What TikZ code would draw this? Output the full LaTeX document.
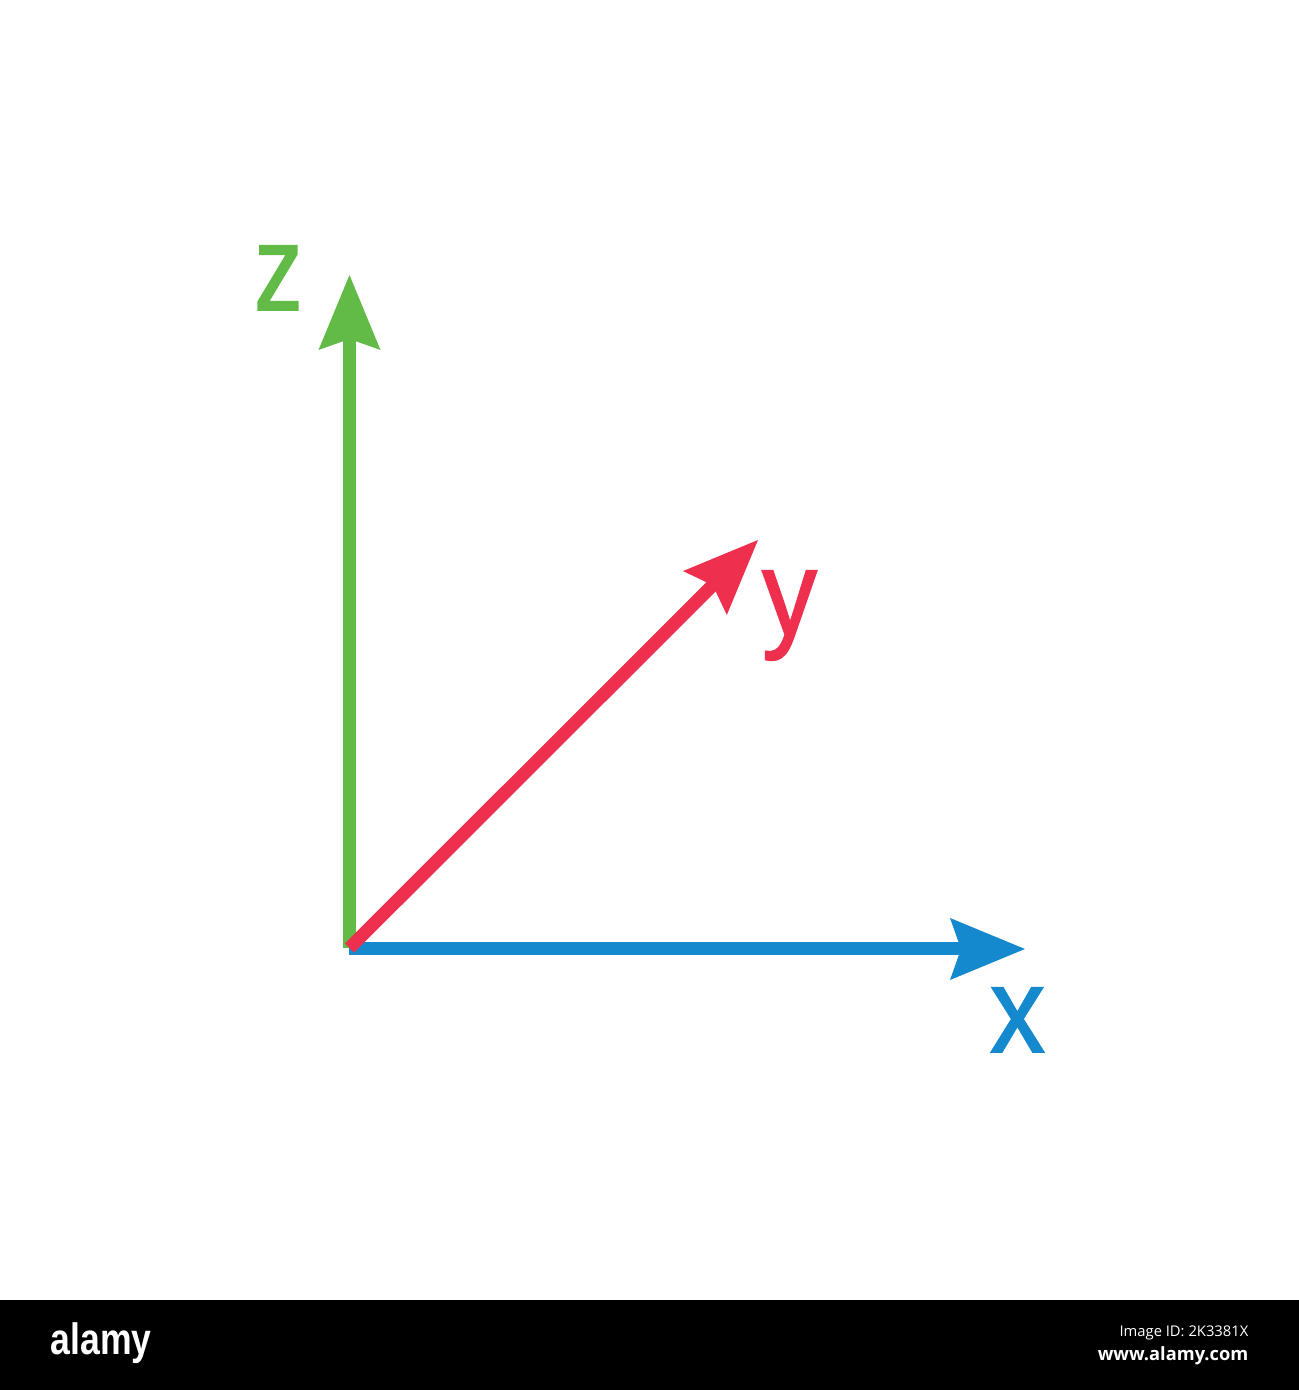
\documentclass[tikz,border=0pt]{standalone}
\usepackage{fontspec}
\usepackage{graphicx}
\setmainfont{Liberation Sans}
\newfontfamily\opensans{Open Sans}
\newfontfamily\axfont[FakeBold=1.6]{Liberation Sans}
\usetikzlibrary{arrows.meta}
\definecolor{axgreen}{HTML}{62BB46}
\definecolor{axred}{HTML}{EE2F4E}
\definecolor{axblue}{HTML}{1589CE}
\tikzset{
  axis/.style={line width=0.13cm, -{Stealth[length=0.75cm,width=0.62cm,inset=0.11cm,line width=0pt]}},
  axlabel/.style={inner sep=0pt, anchor=base, font=\axfont\fontsize{34.5}{34.5}\selectfont},
}
\begin{document}
\begin{tikzpicture}
\useasboundingbox (0,0) rectangle (12.99,13.90);
\fill[white] (0,0) rectangle (12.99,13.90);
% origin and axis ends
\coordinate (O) at (3.495,4.42);
\coordinate (Ob) at (3.49,4.41);
\coordinate (Z) at (3.495,11.15);
\coordinate (X) at (10.25,4.41);
\coordinate (Y) at (7.58,8.50);
\draw[axis, axgreen] (O) -- (Z);
\draw[axis, axblue] (Ob) -- (X);
\draw[axis, axred] (O) -- (Y);
\node[axlabel, text=axgreen] (zl) at (2.785,10.80) {\scalebox{0.8}[1]{z}};
\node[axlabel, text=axred] (yl) at (7.895,7.55) {\scalebox{0.9}[1]{y}};
\node[axlabel, text=axblue] (xl) at (10.175,3.38) {\scalebox{0.9}[1]{x}};
% watermark bar
\fill[black] (0,0) rectangle (12.99,0.90);
\node[inner sep=0pt, anchor=base west, text=white, font=\fontsize{12.5}{12.5}\selectfont\bfseries] (logo) at (0.50,0.35) {\scalebox{0.81}[1]{alamy}};
\node[inner sep=0pt, anchor=base east, text=white, font=\opensans\fontsize{4.2}{4.2}\selectfont] (imgid) at (12.49,0.53) {Image ID: 2K3381X};
\node[inner sep=0pt, anchor=base east, text=white, font=\opensans\bfseries\fontsize{5.2}{5.2}\selectfont] (url) at (12.49,0.30) {www.alamy.com};
\end{tikzpicture}
\end{document}
